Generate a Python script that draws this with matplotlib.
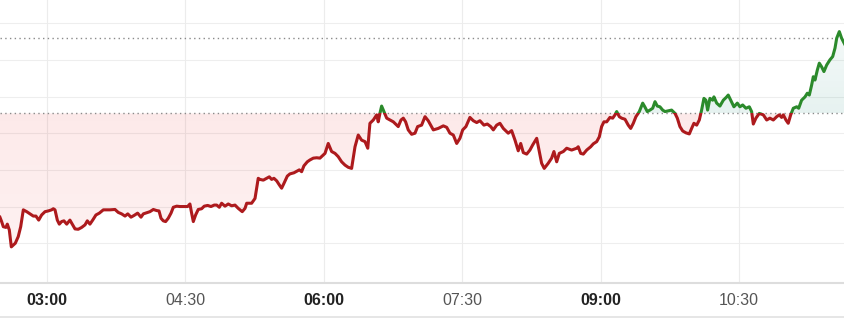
import numpy as np
import matplotlib
matplotlib.use("Agg")
import matplotlib.pyplot as plt
from matplotlib.patches import Rectangle
from matplotlib.path import Path
from matplotlib.lines import Line2D
from matplotlib.transforms import blended_transform_factory

# intraday prices, time in minutes since midnight
time_min = [
    149.6, 150.7, 151.8, 153.5, 154.4, 155.7, 157.0, 158.3, 159.6, 161.5,
    163.1, 164.8, 167.0, 169.1, 171.3, 173.0, 174.8, 176.7, 178.9, 181.0,
    183.2, 184.3, 185.4, 186.9, 188.2, 189.7, 191.2, 193.0, 195.1, 196.9,
    198.4, 200.5, 202.7, 204.9, 206.4, 208.1, 209.9, 212.0, 214.2, 216.8,
    219.0, 221.1, 224.4, 226.5, 228.7, 230.9, 232.7, 234.8, 236.9, 239.1,
    241.3, 242.8, 245.0, 247.1, 249.3, 251.5, 253.0, 254.3, 255.8, 257.3,
    259.0, 260.8, 262.3, 264.5, 266.6, 268.8, 271.6, 273.1, 274.2, 275.3,
    276.8, 278.5, 280.7, 282.4, 284.6, 286.8, 288.9, 290.5, 292.2, 293.7,
    295.9, 298.0, 300.2, 302.4, 304.5, 307.1, 308.9, 310.0, 313.2, 315.4,
    316.5, 317.5, 318.6, 320.8, 323.0, 324.7, 326.2, 327.7, 329.5, 331.2,
    332.7, 334.2, 336.4, 338.1, 340.7, 342.9, 344.2, 345.7, 347.2, 349.4,
    351.1, 353.3, 355.5, 357.6, 360.9, 363.0, 365.2, 367.4, 369.5, 371.7,
    373.9, 376.0, 378.2, 380.4, 382.5, 384.7, 386.9, 388.7, 390.1, 392.3,
    394.5, 395.5, 396.6, 397.7, 398.8, 401.0, 403.1, 405.3, 407.5, 408.5,
    410.3, 411.8, 413.3, 415.0, 417.2, 419.4, 421.1, 423.7, 425.9, 428.0,
    431.3, 434.5, 437.8, 440.0, 442.1, 444.3, 446.5, 448.6, 450.4, 452.5,
    455.1, 457.3, 459.5, 461.6, 464.2, 466.4, 468.6, 470.3, 472.5, 474.6,
    476.8, 480.0, 482.2, 484.4, 486.5, 488.1, 489.8, 492.0, 494.1, 495.9,
    498.5, 500.2, 501.7, 503.4, 506.0, 508.2, 509.7, 511.5, 513.2, 515.8,
    518.0, 521.2, 524.5, 525.5, 527.1, 528.8, 531.0, 533.6, 535.3, 537.5,
    539.2, 540.7, 542.2, 544.0, 546.1, 547.9, 549.4, 550.5, 552.2, 553.7,
    555.9, 558.0, 559.6, 561.3, 563.0, 565.2, 567.4, 568.9, 570.4, 572.1,
    573.9, 575.4, 576.9, 578.6, 580.4, 581.9, 584.0, 586.2, 588.4, 589.9,
    591.6, 593.4, 595.5, 597.7, 599.2, 600.7, 602.5, 604.2, 605.7, 607.2,
    608.5, 609.6, 611.1, 612.9, 613.7, 615.5, 617.6, 619.8, 622.0, 623.0,
    624.6, 626.7, 628.9, 630.6, 632.4, 634.5, 636.7, 638.2, 639.3, 641.0,
    643.2, 645.8, 648.0, 650.1, 652.3, 654.5, 656.2, 657.7, 658.8, 660.5,
    662.0, 663.6, 665.3, 667.5, 668.8, 670.7, 672.9, 674.4, 675.7, 677.2,
    678.3, 679.4, 680.9, 682.2, 683.7, 685.2, 687.0, 689.1, 690.9, 692.4,
    693.5, 695.2, 696.7, 698.9,
]
price = [
    21.76, 21.64, 21.50, 21.48, 21.57, 21.41, 20.95, 21.00, 21.05, 21.23,
    21.50, 21.96, 21.91, 21.85, 21.79, 21.79, 21.68, 21.82, 21.91, 21.93,
    21.96, 21.99, 21.96, 21.68, 21.57, 21.64, 21.66, 21.57, 21.68, 21.55,
    21.44, 21.43, 21.48, 21.55, 21.66, 21.57, 21.68, 21.82, 21.87, 21.96,
    21.96, 21.96, 21.97, 21.89, 21.85, 21.79, 21.85, 21.76, 21.81, 21.87,
    21.76, 21.85, 21.88, 21.91, 21.97, 21.94, 21.93, 21.73, 21.66, 21.64,
    21.73, 21.87, 22.03, 22.06, 22.05, 22.05, 22.05, 22.12, 21.87, 21.64,
    21.82, 21.97, 21.99, 22.06, 22.08, 22.05, 22.09, 22.09, 22.03, 22.14,
    22.06, 22.12, 22.07, 22.09, 22.00, 21.91, 22.00, 22.14, 22.14, 22.27,
    22.55, 22.82, 22.79, 22.77, 22.82, 22.86, 22.79, 22.82, 22.75, 22.64,
    22.55, 22.68, 22.88, 22.94, 22.97, 23.02, 23.05, 23.00, 23.16, 23.27,
    23.32, 23.37, 23.38, 23.37, 23.50, 23.77, 23.55, 23.50, 23.41, 23.27,
    23.18, 23.12, 23.09, 23.68, 24.00, 23.86, 23.82, 23.64, 24.32, 24.41,
    24.55, 24.36, 24.59, 24.79, 24.68, 24.46, 24.41, 24.36, 24.27, 24.23,
    24.41, 24.46, 24.36, 24.14, 24.02, 24.05, 24.23, 24.27, 24.50, 24.39,
    24.14, 24.18, 24.25, 24.21, 24.05, 24.00, 23.77, 23.91, 24.14, 24.23,
    24.48, 24.39, 24.34, 24.39, 24.27, 24.30, 24.23, 24.14, 24.27, 24.32,
    24.18, 24.05, 24.12, 23.86, 23.57, 23.77, 23.52, 23.48, 23.59, 23.73,
    23.91, 23.55, 23.23, 23.09, 23.23, 23.37, 23.55, 23.27, 23.50, 23.55,
    23.64, 23.59, 23.64, 23.68, 23.50, 23.48, 23.59, 23.68, 23.76, 23.82,
    23.95, 24.23, 24.36, 24.36, 24.48, 24.46, 24.55, 24.64, 24.50, 24.46,
    24.43, 24.27, 24.18, 24.32, 24.50, 24.64, 24.87, 24.76, 24.64, 24.68,
    24.73, 24.91, 24.79, 24.77, 24.68, 24.64, 24.66, 24.68, 24.59, 24.46,
    24.23, 24.11, 24.06, 24.03, 24.18, 24.32, 24.27, 24.41, 24.68, 25.00,
    24.95, 24.68, 25.00, 24.95, 25.04, 24.87, 24.79, 24.95, 25.04, 25.09,
    24.95, 24.77, 24.87, 24.77, 24.82, 24.73, 24.77, 24.64, 24.30, 24.46,
    24.59, 24.55, 24.41, 24.46, 24.41, 24.50, 24.55, 24.48, 24.55, 24.41,
    24.32, 24.55, 24.73, 24.77, 24.73, 24.95, 25.04, 25.14, 25.09, 25.36,
    25.59, 25.50, 25.77, 25.96, 25.86, 25.73, 25.91, 26.05, 26.14, 26.37,
    26.64, 26.82, 26.64, 26.46,
]
prev_close = 24.59
ref_high = 26.65

tick_min = [180, 270, 360, 450, 540, 630]
tick_labels = ["03:00", "04:30", "06:00", "07:30", "09:00", "10:30"]

RED = "#ad1a1d"
GREEN = "#2b8a2b"

t = np.array(time_min)
p = np.array(price)

W, H = 845, 321
fig = plt.figure(figsize=(W / 100, H / 100), dpi=100)
ax = fig.add_axes([0, 38 / H, 1, 283 / H])
x0, x1 = 149.645, 698.9
y0, y1 = 19.965, 27.682
ax.set_xlim(x0, x1)
ax.set_ylim(y0, y1)

# grid
for g in np.arange(21.05, 27.1, 1.0):
    ax.axhline(g, color="#eeeeee", lw=0.8, zorder=0)
for m in tick_min:
    ax.axvline(m, color="#ececec", lw=0.8, zorder=0)

# gradient fills between price and previous close
def gradient_fill(mask, rgb, a_near, a_far, lo, hi, near_top):
    coll = ax.fill_between(t, p, prev_close, where=mask, interpolate=True,
                           color="none", lw=0)
    paths = coll.get_paths()
    if not paths:
        return
    clip = Path.make_compound_path(*paths)
    n = 256
    alpha = np.linspace(a_near, a_far, n) if near_top else np.linspace(a_far, a_near, n)
    img = np.zeros((n, 2, 4))
    img[..., :3] = rgb
    img[..., 3] = alpha[:, None]
    im = ax.imshow(img, extent=[x0, x1, lo, hi], origin="upper",
                   aspect="auto", zorder=1, interpolation="bilinear")
    im.set_clip_path(clip, ax.transData)

gradient_fill(p <= prev_close, (0.92, 0.15, 0.15), 0.10, 0.06, 20.5, prev_close, True)
gradient_fill(p >= prev_close, (0.0, 0.50, 0.43), 0.10, 0.04, prev_close, 27.0, False)

# reference lines
ax.axhline(prev_close, color="#8a8a8a", lw=1.0, ls=(0, (1, 2.4)), zorder=2)
ax.axhline(ref_high, color="#8a8a8a", lw=1.0, ls=(0, (1, 2.4)), zorder=2)

# price line, red below previous close, green above
lo_line, = ax.plot(t, p, color=RED, lw=2.2, zorder=3, solid_joinstyle="round")
hi_line, = ax.plot(t, p, color=GREEN, lw=2.2, zorder=3, solid_joinstyle="round")
lo_line.set_clip_path(Rectangle((x0, y0), x1 - x0, prev_close - y0,
                                transform=ax.transData))
hi_line.set_clip_path(Rectangle((x0, prev_close), x1 - x0, y1 - prev_close,
                                transform=ax.transData))

for side in ["top", "left", "right"]:
    ax.spines[side].set_visible(False)
ax.spines["bottom"].set_color("#dddddd")
ax.spines["bottom"].set_linewidth(1.5)
ax.set_xticks([])
ax.set_yticks([])

trans = blended_transform_factory(ax.transData, fig.transFigure)
for m, lab in zip(tick_min, tick_labels):
    bold = m % 180 == 0
    ax.text(m, 1 - 300.5 / H, lab, transform=trans, ha="center", va="center",
            fontsize=11.5, family="Liberation Sans",
            fontweight="bold" if bold else "normal",
            color="#222222" if bold else "#555555")

fig.add_artist(Line2D([0, 1], [1 - 316.5 / H] * 2, color="#e2e2e2", lw=1.2))

fig.savefig("out.png", dpi=100)
